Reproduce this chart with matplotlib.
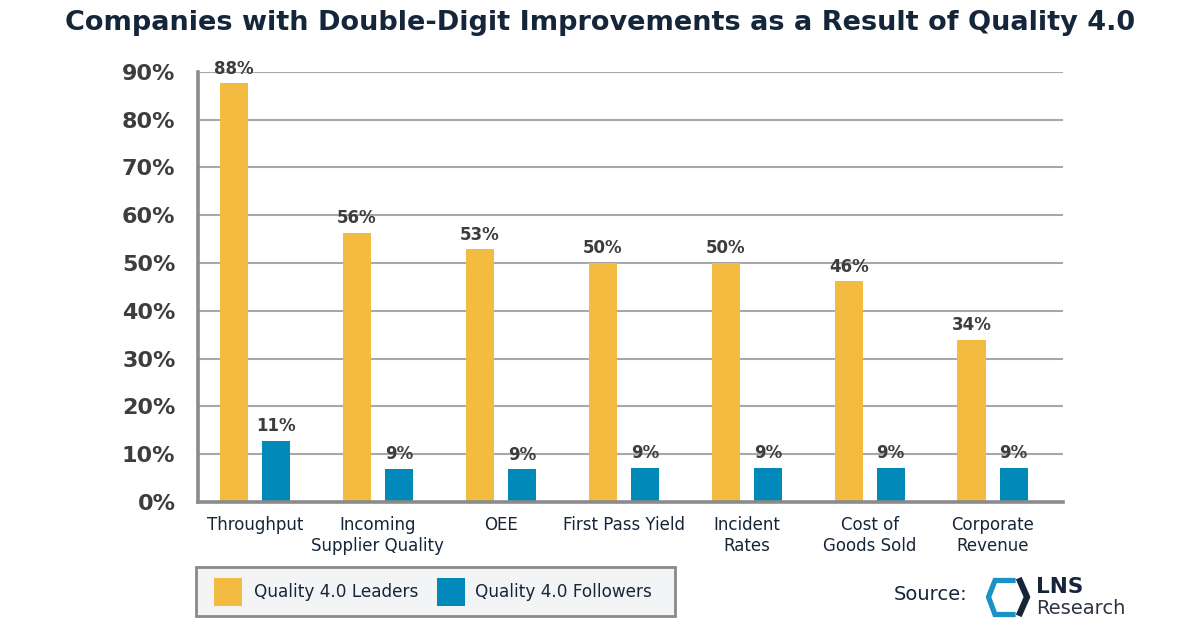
import matplotlib.pyplot as plt
import numpy as np
from matplotlib.lines import Line2D
from matplotlib.patches import Rectangle

categories = ['Throughput', 'Incoming\nSupplier Quality', 'OEE', 'First Pass Yield',
              'Incident\nRates', 'Cost of\nGoods Sold', 'Corporate\nRevenue']
leaders = [87.6, 56.3, 52.9, 50.0, 50.0, 46.2, 33.9]
followers = [12.8, 7.0, 6.8, 7.1, 7.1, 7.1, 7.1]
leader_labels = ['88%', '56%', '53%', '50%', '50%', '46%', '34%']
follower_labels = ['11%', '9%', '9%', '9%', '9%', '9%', '9%']
series_names = ['Quality 4.0 Leaders', 'Quality 4.0 Followers']
yticks = [0, 10, 20, 30, 40, 50, 60, 70, 80, 90]

LEAD = '#F3BB40'
FOLL = '#0189BA'
NAVY = '#16263A'
DARK = '#3D3D3D'
W, H = 1201, 631


def fx(px):
    return px / W


def fy(py):
    return 1 - py / H


fig = plt.figure(figsize=(12.01, 6.31), dpi=100)
ax = fig.add_axes([fx(197.7), fy(502), (1062.7 - 197.7) / W, (502 - 71.7) / H])

x = np.arange(len(categories))
w = 0.23
b1 = ax.bar(x - 0.171, leaders, w, color=LEAD, zorder=3)
b2 = ax.bar(x + 0.171, followers, w, color=FOLL, zorder=3)

for rect, lab in zip(list(b1) + list(b2), leader_labels + follower_labels):
    ax.annotate(lab, (rect.get_x() + rect.get_width() / 2, rect.get_height()),
                xytext=(0, 4), textcoords='offset points', ha='center', va='bottom',
                fontsize=12, fontweight='bold', color=DARK, zorder=5)

ax.set_xlim(-0.466, 6.57)
ax.set_ylim(0, 90)
ax.set_yticks(yticks)
ax.set_yticklabels(['%d%%' % v for v in yticks], fontsize=16, fontweight='bold', color=DARK)
ax.set_xticks(x)
ax.set_xticklabels(categories, fontsize=12, color=NAVY)
ax.tick_params(axis='y', length=0, pad=16)
ax.tick_params(axis='x', length=0, pad=10)
ax.yaxis.grid(True, color='#A6A9AC', linewidth=1.5, zorder=0)
ax.set_axisbelow(True)
for s in ['top', 'right']:
    ax.spines[s].set_visible(False)
for s in ['left', 'bottom']:
    ax.spines[s].set_color('#8B8B8B')
    ax.spines[s].set_linewidth(2.6)
    ax.spines[s].set_zorder(4)

fig.text(0.5, fy(23), 'Companies with Double-Digit Improvements as a Result of Quality 4.0',
         ha='center', va='center', fontsize=19.5, fontweight='bold', color=NAVY)

# legend box, drawn by hand to match the boxed layout
fig.add_artist(Rectangle((fx(196), fy(616)), (675 - 196) / W, (616 - 567) / H,
                         transform=fig.transFigure, facecolor='#F3F4F6',
                         edgecolor='#8A8A8A', linewidth=2))
for px, col, name, tx in [(214, LEAD, series_names[0], 254), (437, FOLL, series_names[1], 475)]:
    fig.add_artist(Rectangle((fx(px), fy(606)), 28 / W, 28 / H,
                             transform=fig.transFigure, facecolor=col, edgecolor='none'))
    fig.text(fx(tx), fy(592), name, fontsize=12.2, color=NAVY, ha='left', va='center')

# source + logo
fig.text(fx(894), fy(595), 'Source:', fontsize=14, color=NAVY, ha='left', va='center')
fig.add_artist(Line2D([fx(1013), fx(995), fx(988.5), fx(995), fx(1013)],
                      [fy(580.5), fy(580.5), fy(597), fy(614.5), fy(614.5)],
                      transform=fig.transFigure, color='#1A92C6', linewidth=3.8,
                      solid_joinstyle='miter'))
fig.add_artist(Line2D([fx(1020), fx(1027), fx(1020)], [fy(581), fy(597), fy(613)],
                      transform=fig.transFigure, color=NAVY, linewidth=4.5,
                      solid_joinstyle='miter'))
fig.text(fx(1036), fy(587), 'LNS', fontsize=15.5, fontweight='bold', color=NAVY,
         ha='left', va='center')
fig.text(fx(1036), fy(609), 'Research', fontsize=14, color='#2E3540',
         ha='left', va='center')

fig.savefig('out.png', dpi=100)
